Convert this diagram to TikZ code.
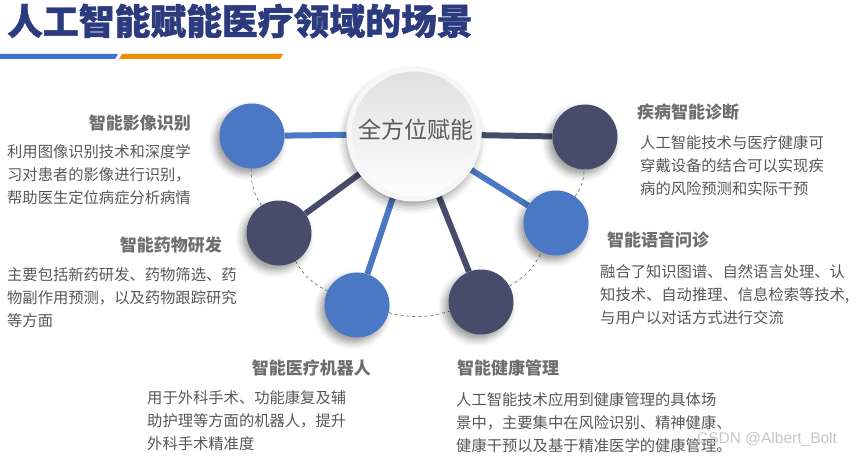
\documentclass[tikz,border=0pt]{standalone}
\usepackage{fontspec}
\newfontfamily\cjk{Noto Sans CJK SC}
\newfontfamily\cjkheavy{Noto Sans CJK SC}[FakeBold=1.2]
\newfontfamily\wmfont{Liberation Sans}
\usetikzlibrary{shadows.blur,backgrounds}
\definecolor{navy}{HTML}{2B3B7E}
\definecolor{cblue}{HTML}{4A78C4}
\definecolor{cdark}{HTML}{474C6A}
\definecolor{barblue}{HTML}{3F70D2}
\definecolor{barorange}{HTML}{EF8B00}
\definecolor{headgray}{HTML}{6E6E6E}
\definecolor{bodygray}{HTML}{575757}
\begin{document}
\begin{tikzpicture}[x=1pt,y=-1pt,
  bub/.style={circle, minimum size=65pt, inner sep=0pt,
    blur shadow={shadow xshift=-4pt, shadow yshift=-5pt, shadow blur radius=7pt, shadow opacity=40}},
  bblue/.style={bub, fill=cblue},
  bdark/.style={bub, fill=cdark},
  hub/.style={circle, minimum size=130pt, inner sep=0pt, top color=gray!25, bottom color=white,
    draw=gray!6, line width=5pt,
    blur shadow={shadow xshift=-2pt, shadow yshift=-6pt, shadow blur radius=9pt, shadow opacity=45}},
  spoke/.style={line width=6pt},
  ring/.style={gray!80!black, line width=0.6pt, dash pattern=on 3pt off 3pt},
  head/.style={font=\cjk\bfseries\fontsize{17}{20}\selectfont, text=headgray, inner sep=0pt},
  body/.style={font=\cjk\fontsize{15.3}{23}\selectfont, text=bodygray, align=left, inner sep=0pt},
]
\useasboundingbox (0,0) rectangle (856,457);

% title
\node[anchor=west, font=\cjkheavy\bfseries\fontsize{35.8}{40}\selectfont, text=navy, inner sep=0pt] (title) at (7,21) {人工智能赋能医疗领域的场景};
\fill[barblue] (0,54) -- (118,54) -- (115,59) -- (0,59) -- cycle;
\fill[barorange] (122,54) -- (283,54) -- (280,59) -- (119,59) -- cycle;

% circles
\node[bblue] (b1) at (252,136) {};
\node[bdark] (d2) at (279,233) {};
\node[bblue] (b3) at (357,305) {};
\node[bdark] (d4) at (481,302) {};
\node[bblue] (b5) at (556,223) {};
\node[bdark] (d6) at (585,137) {};
\node[hub] (c) at (414,134) {};
\node[font=\cjk\fontsize{23}{26}\selectfont, text=black!65, inner sep=0pt] (ct) at (416,130) {全方位赋能};

\begin{scope}[on background layer]
  \draw[ring] (b1) to[bend right=17] (d2);
  \draw[ring] (d2) to[bend right=17] (b3);
  \draw[ring] (b3) to[bend right=15] (d4);
  \draw[ring] (d4) to[bend right=17] (b5);
  \draw[ring] (b5) to[bend right=17] (d6);
  \draw[spoke, cblue] (c) -- (b1);
  \draw[spoke, cdark] (c) -- (d2);
  \draw[spoke, cblue] (c) -- (b3);
  \draw[spoke, cdark] (c) -- (d4);
  \draw[spoke, cblue] (c) -- (b5);
  \draw[spoke, cdark] (c) -- (d6);
\end{scope}

% texts
\node[head, anchor=east] (h1) at (191,123) {智能影像识别};
\node[body, anchor=west] (t1) at (7,175) {利用图像识别技术和深度学\\习对患者的影像进行识别，\\帮助医生定位病症分析病情};
\node[head, anchor=east] (h2) at (222,245) {智能药物研发};
\node[body, anchor=west] (t2) at (7,298) {主要包括新药研发、药物筛选、药\\物副作用预测，以及药物跟踪研究\\等方面};
\node[head, anchor=west] (h3) at (637,112) {疾病智能诊断};
\node[body, anchor=west] (t3) at (640,166) {人工智能技术与医疗健康可\\穿戴设备的结合可以实现疾\\病的风险预测和实际干预};
\node[head, anchor=west] (h4) at (607,240) {智能语音问诊};
\node[body, anchor=west] (t4) at (600,295) {融合了知识图谱、自然语言处理、认\\知技术、自动推理、信息检索等技术,\\与用户以对话方式进行交流};
\node[head, anchor=east] (h5) at (371,368) {智能医疗机器人};
\node[body, anchor=west] (t5) at (147,421) {用于外科手术、功能康复及辅\\助护理等方面的机器人，提升\\外科手术精准度};
\node[head, anchor=west] (h6) at (457,368) {智能健康管理};
\node[body, anchor=west] (t6) at (456,423) {人工智能技术应用到健康管理的具体场\\景中，主要集中在风险识别、精神健康、\\健康干预以及基于精准医学的健康管理。};
\node[anchor=west, font=\wmfont\fontsize{15.5}{18}\selectfont, text=gray!45, inner sep=0pt] (wm) at (697,439) {CSDN @Albert\_Bolt};
\end{tikzpicture}
\end{document}
